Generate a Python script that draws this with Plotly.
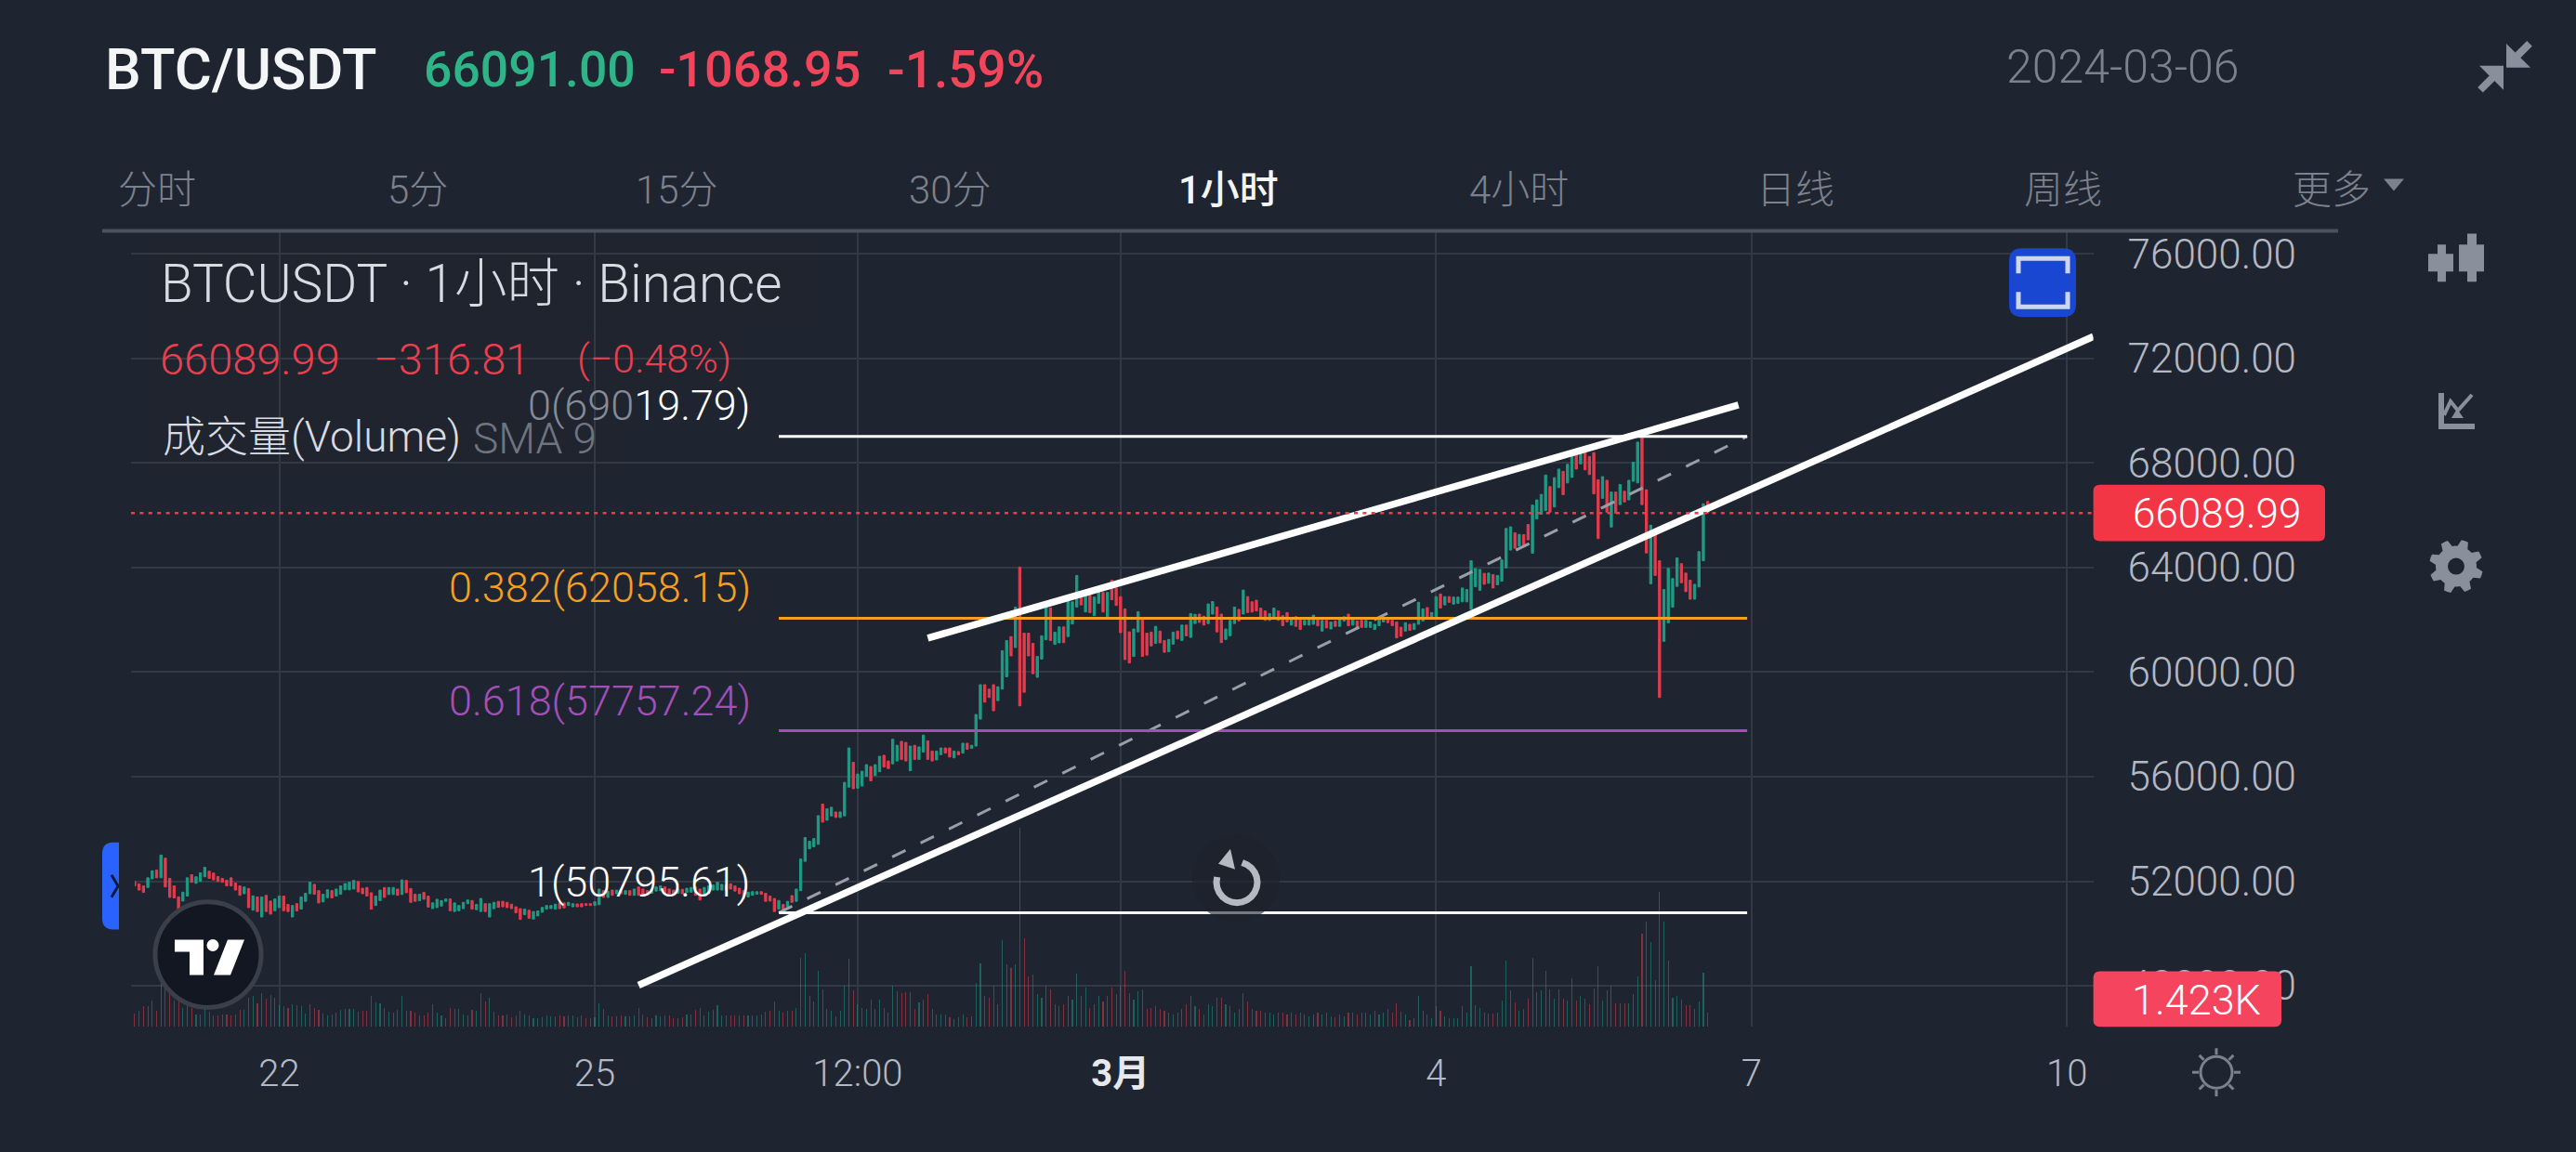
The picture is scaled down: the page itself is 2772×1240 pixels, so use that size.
import numpy as np
import pandas as pd
import plotly.graph_objects as go

# hourly bars
first_bar = "2024-02-20 15:00"

opens = [
    51990, 51900, 51820, 51760, 52090, 52430, 52130, 52880, 52110, 51820,
    51400, 51240, 51430, 52250, 51920, 51990, 52170, 52380, 52310, 52180,
    52110, 52040, 52130, 51930, 51820, 51520, 51720, 50890, 51400, 50630,
    51460, 51240, 50870, 50990, 51430, 51110, 50630, 51140, 50930, 51230,
    51520, 51880, 51640, 51210, 51370, 51640, 51430, 51500, 51670, 51670,
    51700, 51990, 51730, 51760, 51560, 51070, 51260, 51760, 51490, 51490,
    51700, 51490, 52030, 51720, 51500, 51250, 51570, 51430, 50950, 50990,
    51050, 51230, 51320, 50840, 50870, 50950,
    51140, 51260, 50910, 50840, 51140, 50630, 50950, 51230, 51230, 51190,
    51120, 51020, 50950, 50720, 50890, 50550, 50670, 50810, 50930, 50950,
    50930, 51170, 51170, 51070, 51020, 51130, 51140, 51140, 51140, 51070,
    51100, 51640, 51380, 51660, 51520, 51690, 51500, 51640, 51460, 51780,
    51700, 51640, 51540, 51620, 51640, 51780, 51700, 51660, 51540, 51690,
    51570, 51580, 51780, 51700, 51460, 51520, 51660, 51660, 51660, 51850,
    51900, 51820, 51730, 51640, 51400, 51460, 51500, 51600, 51540, 51430,
    51340, 50930, 51110, 51020, 51450, 51230,
    51640, 52760, 53240, 53320, 53410, 54950, 54330, 54500, 54650, 54440,
    54500, 55600, 56550, 55560, 55640, 56010, 56390, 56040, 56190, 56820,
    56600, 56490, 56600, 57350, 57310, 56230, 57200, 56660, 56940, 57370,
    56980, 56640, 56840, 57100, 57100, 56720, 56960, 56900, 57280, 57080,
    57170, 58200, 59520, 59350, 59520, 58910, 59350, 59820, 61360, 60940,
    64020, 61490, 61490, 61100, 59800, 60500, 61240, 62460, 61060, 61120,
    61730, 61360, 61840, 62490, 62990, 62300, 63010, 62160, 62630, 63050,
    62120, 63520,
    63220, 62890, 62420, 61540, 60600, 61540, 62010, 61490, 61530, 61100,
    61570, 61210, 60780, 61070, 61570, 61210, 61800, 61330, 61860, 62220,
    62140, 61860, 62220, 62490, 62220, 61250, 61390, 61860, 62400, 62220,
    62890, 62690, 62750, 62450, 62340, 61980, 62100, 62340, 62160, 62280,
    61800, 62120, 62060, 61800, 61800, 61830, 62040, 61570, 61980, 61650,
    61950, 61750, 61950, 62220, 61800, 61960, 61980, 61710, 61710, 61630,
    61780, 61920, 62040, 61980, 61920, 61720, 61570, 61830, 61630, 61830,
    61960, 62470, 62100, 62120,
    62990, 62570, 62890, 62600, 62630, 62690, 62690, 62400, 63270, 63130,
    63780, 63400, 63730, 63340, 63480, 63990, 64670, 65330, 64820, 65260,
    65650, 64550, 65860, 66040, 66180, 67100, 66320, 67060, 67680, 67240,
    67450, 68420, 67970, 68480, 68250, 68400, 67360, 66650, 67340, 65550,
    66890, 66410, 66920, 66590, 67300, 67240, 69020, 66980, 63380, 65290,
    64260, 61180, 61890, 62490, 63280, 64150, 63790, 63520, 62790, 63260,
    64260, 66530,
]
closes = [
    51820, 51660, 51570, 52130, 52400, 52130, 53000, 51780, 51380, 51360,
    50750, 51580, 52130, 51960, 52170, 52320, 52530, 52110, 52050, 51990,
    51960, 51820, 51820, 51660, 51460, 51780, 50990, 51440, 50840, 51400,
    50840, 50740, 51320, 51430, 50870, 50840, 51070, 50860, 51400, 51540,
    51960, 51500, 51170, 51500, 51670, 51360, 51700, 51820, 51910, 51960,
    52030, 51590, 51520, 51430, 50930, 51430, 51660, 51380, 51760, 51760,
    51460, 52050, 51560, 51190, 51230, 51500, 51310, 51010, 51170, 51310,
    51260, 51320, 50870, 51170, 51070, 51190,
    51280, 50930, 51110, 51340, 50840, 51140, 51190, 51000, 51020, 50990,
    50950, 50790, 50540, 50930, 50580, 50840, 50860, 51000, 51070, 51070,
    51120, 50950, 50980, 51190, 51140, 51020, 51020, 51070, 51070, 51210,
    51700, 51380, 51620, 51460, 51660, 51520, 51640, 51460, 51700, 51460,
    51500, 51540, 51700, 51780, 51820, 51540, 51520, 51500, 51700, 51520,
    51730, 51760, 51460, 51280, 51760, 51820, 51850, 51960, 51880, 51660,
    51700, 51620, 51520, 51340, 51580, 51600, 51600, 51500, 51230, 51240,
    50840, 51260, 50930, 51230, 51190, 51700,
    52850, 53670, 53530, 53630, 54510, 54260, 54770, 54830, 54440, 54650,
    55780, 57100, 55540, 56100, 56210, 56460, 55840, 56460, 56780, 56370,
    56310, 57430, 57200, 56660, 56600, 57170, 56660, 57140, 57590, 56660,
    56600, 56980, 57100, 56900, 56750, 56980, 56840, 57280, 57050, 57200,
    58380, 59520, 58850, 59030, 58520, 59440, 60820, 61210, 60620, 62490,
    58710, 59230, 60620, 59940, 60600, 61390, 62510, 61210, 61530, 61730,
    61130, 62720, 62690, 63700, 62570, 62930, 62280, 62870, 63070, 62300,
    63050, 62770,
    62550, 61510, 60480, 60350, 61650, 62310, 60600, 60650, 61000, 61750,
    61120, 60760, 61250, 61530, 61270, 61800, 61390, 62240, 62210, 61900,
    61800, 62610, 62700, 61540, 61130, 61650, 61980, 62490, 61960, 63140,
    62280, 62300, 62340, 62100, 61980, 62240, 62450, 61980, 61780, 61920,
    62060, 61750, 61630, 61980, 62040, 62180, 61770, 61980, 61690, 61920,
    61750, 62040, 62120, 61770, 62020, 61660, 61710, 61980, 61920, 61830,
    62010, 62100, 61890, 61780, 61310, 61370, 61890, 61600, 61860, 62670,
    62420, 62100, 62280, 62890,
    62450, 62890, 62670, 62870, 62870, 63220, 63160, 64260, 63960, 63930,
    63360, 63790, 63220, 63700, 64290, 65500, 65560, 64740, 65270, 64820,
    65060, 66390, 66590, 66800, 67540, 66120, 67440, 67770, 66790, 67950,
    68330, 67770, 68420, 67740, 67560, 66820, 65110, 67480, 66120, 66890,
    66080, 67180, 66510, 67340, 68030, 68800, 66410, 64560, 65620, 63700,
    59030, 63160, 63970, 63580, 64370, 63420, 63080, 62790, 63360, 64610,
    66440, 66090,
]
volumes = [
    1360, 1590, 2060, 2060, 2700, 1650, 4600, 4280, 4030, 2700,
    3650, 1900, 2220, 1900, 1200, 1200, 2060, 1490, 1110, 1110,
    1200, 1200, 1110, 1270, 1680, 1680, 2920, 3170, 2380, 3390,
    2850, 3230, 2920, 2220, 2060, 1900, 2310, 2160, 2060, 1330,
    2280, 1900, 1740, 1330, 1110, 1200, 1430, 1740, 1840, 1840,
    1840, 1490, 1590, 1590, 3110, 2440, 2380, 1900, 1520, 1430,
    1740, 3170, 1650, 1650, 1430, 1170, 1110, 1430, 2280, 1430,
    1110, 860, 1900, 1840, 1840, 1270,
    1110, 1680, 1590, 3390, 2540, 2920, 1490, 1110, 1170, 1270,
    950, 1110, 1590, 1270, 1110, 890, 890, 950, 1110, 1010,
    1010, 1110, 1010, 1110, 1110, 950, 1110, 890, 890, 950,
    2380, 1810, 1110, 1010, 1050, 1110, 1010, 1010, 1110, 1900,
    1200, 950, 890, 1170, 1010, 1110, 1110, 890, 890, 950,
    1270, 1270, 1740, 1900, 1110, 1490, 1740, 2160, 1110, 1110,
    1110, 1110, 1110, 1110, 1110, 1110, 1110, 1270, 1490, 1590,
    2540, 1650, 1430, 1590, 1590, 1900,
    7020, 7530, 3120, 2610, 5660, 3800, 1760, 1590, 1080, 1590,
    4140, 6920, 3730, 2270, 1930, 1760, 2780, 1760, 2780, 1930,
    1420, 4200, 3630, 3460, 3530, 3530, 1760, 2510, 2710, 3290,
    1760, 1250, 1190, 1250, 920, 750, 920, 1250, 920, 1080,
    4470, 6510, 3120, 2950, 4140, 2270, 8810, 6340, 6000, 6340,
    20400, 9050, 5150, 5320, 3290, 2950, 4140, 3800, 2270, 2100,
    2270, 3120, 2780, 5420, 3120, 3970, 1930, 2270, 3120, 2610,
    3120, 3970, 3290, 4310, 5660, 3460, 2780, 3630, 3800, 1760,
    1930, 2100, 1760, 1590, 1420, 1250, 1420, 1830, 2270, 3120,
    2100, 1760, 1250, 2270, 2100, 2950, 2950, 2270, 2100, 1420,
    1760, 3460, 2610, 1760, 1590, 1590, 1420, 1420, 1250, 1420,
    1420, 1250, 1420, 1250, 1420, 1250, 1080, 1250, 1420, 1250,
    1420, 1080, 920, 1250, 1080, 1420, 1420, 1250, 1420, 1420,
    1250, 1590, 1250, 1420, 1760, 1420,
    2350, 1520, 1240, 620, 820, 3170, 1570, 1240, 820, 2060,
    1650, 1030, 820, 820, 820, 2060, 1440, 6180, 2140, 1940,
    1440, 1320, 1320, 1440, 2680, 6800, 3710, 2470, 1650, 1850,
    2880, 7000, 3500, 3710, 5690, 3830, 2880, 3830, 2880, 2680,
    4940, 2680, 3090, 2880, 2270, 3910, 6180, 2680, 3710, 4200,
    2350, 2350, 2350, 2350, 3300, 5150, 9560, 10710, 8650, 4740,
    13800, 10710, 6720, 2970, 3090, 2800, 2180, 2180, 1850, 2600,
    5560, 1423,
]

fib_levels = [69019.79, 62058.15, 57757.24, 50795.61]
fib_colors = ["#ffffff", "#f59f22", "#a24fb8", "#ffffff"]
fib_labels = [
    '<span style="color:#868b96">0(690</span>19.79)',
    "0.382(62058.15)",
    "0.618(57757.24)",
    "1(50795.61)",
]
fib_dates = ["2024-02-26 18:00", "2024-03-06 23:00"]
upper_dates = ["2024-02-28 04:00", "2024-03-06 21:00"]
upper_prices = [61300, 70220]
lower_dates = ["2024-02-25 10:00", "2024-03-10 06:00"]
lower_prices = [48020, 72840]
last_price = 66089.99

price_ticks = [76000, 72000, 68000, 64000, 60000, 56000, 52000, 48000]
date_ticks = ["2024-02-22", "2024-02-25", "2024-02-27 12:00", "2024-03-01",
              "2024-03-04", "2024-03-07", "2024-03-10"]
date_labels = ["22", "25", "12:00", '<span style="color:#e6e8ec"><b>3月</b></span>',
               "4", "7", "10"]
tabs = ["分时", "5分", "15分", "30分", "1小时", "4小时", "日线", "周线", "更多"]
tab_centers = [169, 449, 728, 1022, 1322, 1634, 1932, 2220, 2509]

assert len(opens) == len(closes) == len(volumes) == 360

BG = "#1f2530"
GRID = "#333944"
UP = "#1f9b84"
DOWN = "#e23c4e"
GREY = "#7b818d"
ICON = "#8a8f9c"
FONT = "Roboto, 'Noto Sans CJK SC', sans-serif"
W, H = 2772, 1240


def px(x):
    return x / W


def py(y):
    # everything sat a pixel or two low against the reference
    return 1 - (y - 2) / H


def label(text, x, y, size, color, anchor="left", weight=300):
    return dict(text=text, x=px(x), y=py(y), xref="paper", yref="paper",
                xanchor=anchor, yanchor="middle", showarrow=False,
                font=dict(size=size, color=color, family=FONT, weight=weight))


def path(points, close=True):
    s = "M " + " L ".join(f"{px(a):.5f},{py(b):.5f}" for a, b in points)
    return s + (" Z" if close else "")


def rrect(x0, y0, x1, y1, r):
    # rounded rectangle, pixel corners
    c = [(x0 + r, y0), (x1 - r, y0), (x1, y0, x1, y0 + r), (x1, y1 - r),
         (x1, y1, x1 - r, y1), (x0 + r, y1), (x0, y1, x0, y1 - r), (x0, y0 + r),
         (x0, y0, x0 + r, y0)]
    s = f"M {px(c[0][0]):.5f},{py(c[0][1]):.5f}"
    for p in c[1:]:
        if len(p) == 2:
            s += f" L {px(p[0]):.5f},{py(p[1]):.5f}"
        else:
            s += f" Q {px(p[0]):.5f},{py(p[1]):.5f} {px(p[2]):.5f},{py(p[3]):.5f}"
    return s + " Z"


def shape(d, fill=None, line=None, width=0, layer="above"):
    return dict(type="path", path=d, xref="paper", yref="paper", layer=layer,
                fillcolor=fill or "rgba(0,0,0,0)",
                line=dict(color=line or "rgba(0,0,0,0)", width=width))


def circle(cx, cy, r, fill=None, line=None, width=0):
    return dict(type="circle", xref="paper", yref="paper",
                x0=px(cx - r), x1=px(cx + r), y0=py(cy + r), y1=py(cy - r),
                fillcolor=fill or "rgba(0,0,0,0)",
                line=dict(color=line or "rgba(0,0,0,0)", width=width))


dates = pd.date_range(first_bar, periods=len(opens), freq="h")
vol_colors = ["rgba(31,155,132,0.5)" if c >= o else "rgba(226,60,78,0.5)"
              for o, c in zip(opens, closes)]

fig = go.Figure()
fig.add_trace(go.Bar(x=dates, y=volumes, marker=dict(color=vol_colors, line_width=0),
                     width=850000, yaxis="y", showlegend=False))
fig.add_trace(go.Candlestick(
    x=dates, open=opens, close=closes,
    high=[max(o, c) for o, c in zip(opens, closes)],
    low=[min(o, c) for o, c in zip(opens, closes)],
    increasing=dict(line=dict(color=UP, width=1), fillcolor=UP),
    decreasing=dict(line=dict(color=DOWN, width=1), fillcolor=DOWN),
    whiskerwidth=0, yaxis="y2", showlegend=False))
fig.add_trace(go.Scatter(x=fib_dates, y=[fib_levels[-1], fib_levels[0]], mode="lines",
                         line=dict(color="#9a9ea6", width=3, dash="16px,18px"),
                         yaxis="y2", showlegend=False))
for level, color in zip(fib_levels, fib_colors):
    fig.add_trace(go.Scatter(x=fib_dates, y=[level, level], mode="lines",
                             line=dict(color=color, width=3),
                             yaxis="y2", showlegend=False))
fig.add_trace(go.Scatter(x=upper_dates, y=upper_prices, mode="lines",
                         line=dict(color="#ffffff", width=7.5), yaxis="y2", showlegend=False))
fig.add_trace(go.Scatter(x=lower_dates, y=lower_prices, mode="lines",
                         line=dict(color="#ffffff", width=7.5), yaxis="y2", showlegend=False))
fig.add_trace(go.Scatter(x=[dates[0] - pd.Timedelta(minutes=50), "2024-03-10 06:00"],
                         y=[last_price, last_price], mode="lines",
                         line=dict(color="#ef3a4a", width=2.5, dash="4px,5.4px"),
                         yaxis="y2", showlegend=False))

annotations = [
    label("BTC/USDT", 111, 74, 61.5, "#f4f5f7", weight=500),
    label("66091.00", 454, 74, 53.5, "#2fb488", weight=500),
    label("-1068.95", 707, 74, 54, "#f0455a", weight=500),
    label("-1.59%", 953, 74, 55, "#f0455a", weight=500),
    label("2024-03-06", 2157, 71, 50, GREY),
    label("BTCUSDT · 1小时 · Binance", 171, 306, 56.5, "#d8dbe2"),
    label("66089.99", 170, 386, 47, "#e8404f"),
    label("−316.81", 400, 386, 47, "#e8404f"),
    label("(−0.48%)", 619, 386, 43, "#e8404f"),
    label("成交量(Volume)", 173, 470, 46, "#d8dbe2"),
    label("SMA 9", 507, 472, 46, "#6f7580"),
    label("66089.99", 2478, 553, 44, "#ffffff", "right"),
    label("1.423K", 2435, 1078, 45, "#ffffff", "right"),
]
for text, center in zip(tabs, tab_centers):
    is_active = text == "1小时"
    annotations.append(label(text, center, 204, 42, "#f4f5f7" if is_active else GREY,
                             "center", 500 if is_active else 300))
for text, color, y in zip(fib_labels, fib_colors, [437, 633, 755, 951]):
    annotations.append(label(text, 810, y, 45, color, "right"))

# pieces of the app around the chart, placed in pixels
shapes = [
    dict(type="rect", xref="paper", yref="paper", layer="between",
         x0=px(156), x1=px(875), y0=py(262), y1=py(345), fillcolor=BG, opacity=0.9, line_width=0),
    dict(type="rect", xref="paper", yref="paper", layer="between",
         x0=px(156), x1=px(800), y0=py(345), y1=py(425), fillcolor=BG, opacity=0.9, line_width=0),
    dict(type="rect", xref="paper", yref="paper", layer="between",
         x0=px(156), x1=px(676), y0=py(425), y1=py(505), fillcolor=BG, opacity=0.9, line_width=0),
    shape(path([(110, 246), (2516, 246), (2516, 250), (110, 250)]), fill="#4b525d"),
    shape(rrect(2252.6, 522, 2502, 583, 7), fill="#f23645"),
    shape(rrect(2252.6, 1047, 2455, 1107, 7), fill="#f5455e"),
    # tab menu arrow
    shape(path([(2565, 192), (2587, 192), (2576, 205)]), fill=GREY),
    # capture button
    shape(rrect(2162, 267, 2234, 341, 14), fill="#1a47d1"),
    shape(path([(2172, 294), (2172, 278), (2225, 278), (2225, 294)], False), line="#cdd6f0", width=5),
    shape(path([(2172, 314), (2172, 330), (2225, 330), (2225, 314)], False), line="#cdd6f0", width=5),
    # exit full screen
    shape(path([(2722, 46), (2704, 64)], False), line=ICON, width=8),
    shape(path([(2697, 46), (2697, 72), (2723, 72)]), fill=ICON),
    shape(path([(2669, 96), (2687, 78)], False), line=ICON, width=8),
    shape(path([(2668, 70), (2694, 70), (2694, 96)]), fill=ICON),
    # left drawer tab
    shape(rrect(110, 908, 140, 1002, 12), fill="#2962ff"),
    shape(path([(128, 900), (145, 900), (145, 1010), (128, 1010)]), fill=BG),
    shape(path([(120, 943), (127, 955), (120, 967)], False), line="#0d1b3e", width=3),
    # tradingview badge
    circle(224, 1029, 57, fill="#131722", line="#3a3f4a", width=5),
    shape(path([(188, 1013), (219, 1013), (219, 1051), (204, 1051), (204, 1026), (188, 1026)]), fill="#ffffff"),
    circle(229, 1019, 6.5, fill="#ffffff"),
    shape(path([(245, 1013), (263, 1013), (248, 1051), (230, 1051)]), fill="#ffffff"),
    # reset button
    circle(1330, 947, 47, fill="rgba(28,33,42,0.6)"),
    # right hand icons
    shape(path([(2613, 273), (2623, 273), (2623, 263), (2632, 263), (2632, 273), (2640, 273),
                (2640, 292), (2632, 292), (2632, 303), (2623, 303), (2623, 292), (2613, 292)]), fill=ICON),
    shape(path([(2646, 263), (2655, 263), (2655, 251), (2665, 251), (2665, 263), (2673, 263),
                (2673, 292), (2665, 292), (2665, 303), (2655, 303), (2655, 292), (2646, 292)]), fill=ICON),
    shape(path([(2627, 423), (2627, 459), (2663, 459)], False), line=ICON, width=6),
    shape(path([(2630, 447), (2637, 432), (2645, 442), (2660, 425)], False), line=ICON, width=4),
    shape(path([(2638, 450), (2651, 450), (2644, 440)]), fill=ICON),
]

# reset arrow
reset_angles = np.radians(np.arange(-75, 200, 15))
shapes.append(shape(path([(1331 + 22 * np.cos(a), 951 + 22 * np.sin(a)) for a in reset_angles], False),
                    line="#b5b9c2", width=7))
shapes.append(shape(path([(1324, 915), (1311, 931), (1329, 937)]), fill="#b5b9c2"))
# gear
teeth = np.radians(np.arange(0, 360, 7.5))
gear = [(2643 + (29 if int(i / 3) % 2 == 0 else 22) * np.cos(a + 0.2),
         610 + (29 if int(i / 3) % 2 == 0 else 22) * np.sin(a + 0.2)) for i, a in enumerate(teeth)]
shapes.append(shape(path(gear), fill=ICON))
shapes.append(circle(2643, 610, 9, fill=BG))
# sun
shapes.append(circle(2385, 1156, 17, line=GREY, width=3))
for a in np.radians(np.arange(0, 360, 45)):
    shapes.append(shape(path([(2385 + 19 * np.cos(a), 1156 + 19 * np.sin(a)),
                              (2385 + 26 * np.cos(a), 1156 + 26 * np.sin(a))], False),
                        line=GREY, width=3))

fig.update_layout(
    width=W, height=H, autosize=False,
    margin=dict(l=0, r=0, t=0, b=0),
    paper_bgcolor=BG, plot_bgcolor=BG,
    font=dict(family=FONT, color="#b4b8c2", size=40, weight=300),
    showlegend=False, hovermode=False, bargap=0,
    annotations=annotations, shapes=shapes,
    xaxis=dict(
        domain=[px(141), px(2252.6)], anchor="y", type="date",
        range=["2024-02-20 14:10", "2024-03-10 06:00"],
        tickmode="array", tickvals=date_ticks, ticktext=date_labels,
        tickfont=dict(size=40, color="#b4b8c2"), ticks="", ticklabelstandoff=23,
        showgrid=True, gridcolor=GRID, gridwidth=2, zeroline=False, showline=False,
        rangeslider=dict(visible=False),
    ),
    yaxis=dict(
        domain=[py(1107), py(250)], range=[0, 81415],
        showgrid=False, showticklabels=False, ticks="", zeroline=False, showline=False,
    ),
    yaxis2=dict(
        domain=[py(1107), py(250)], overlaying="y", anchor="x", side="right",
        range=[46426, 76816],
        tickmode="array", tickvals=price_ticks, ticktext=[f"{t}.00" for t in price_ticks],
        tickfont=dict(size=44, color="#b4b8c2"), ticks="", ticklabelstandoff=36,
        showgrid=True, gridcolor=GRID, gridwidth=2, zeroline=False, showline=False,
    ),
)

fig.write_html("out.html", config={"displayModeBar": False},
               post_script="document.body.style.margin='0';document.body.style.overflow='hidden';")
